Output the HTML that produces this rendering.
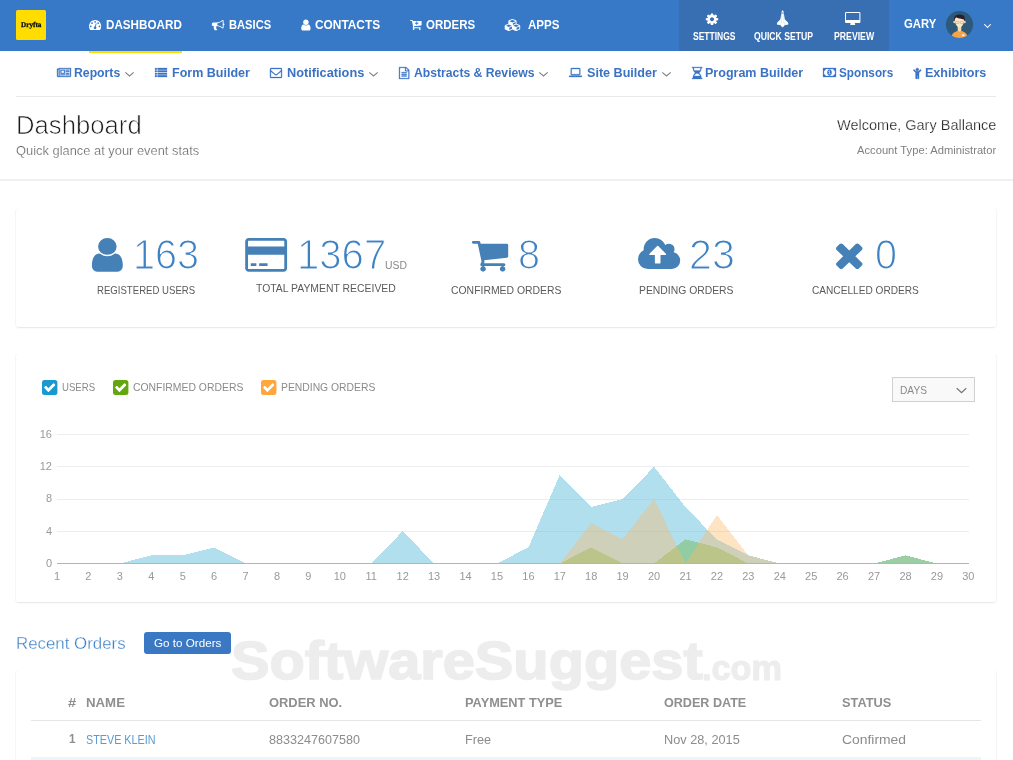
<!DOCTYPE html>
<html lang="en">
<head>
<meta charset="utf-8">
<title>Dryfta - Dashboard</title>
<style>
html,body{margin:0;padding:0;background:#fff}
html{overflow:hidden}
body{width:1013px;height:760px;overflow:hidden}
#app{position:relative;width:1013px;height:760px;overflow:hidden;background:#fff;font-family:"Liberation Sans",sans-serif}
.t{position:absolute;white-space:nowrap;display:block;margin:0;padding:0;transform-origin:0 0;text-decoration:none;cursor:default}
.b{position:absolute;display:block}
svg.l{position:absolute;left:0;top:0;width:1013px;height:760px;overflow:visible;pointer-events:none}
.card{position:absolute;background:#fff;border-radius:3px;box-shadow:-1px 0 0 #f5f5f5,1px 0 0 #f5f5f5,0 1px 1.5px rgba(0,0,0,.10)}

</style>
</head>
<body>
<div id="app">
<header>
<div class="b" style="left:0;top:0;width:1013px;height:51px;background:#3779c7"></div>
<div class="b" style="left:0;top:96px;width:1013px;height:84px;background:#fff"></div>
<div class="b" style="left:0;top:51px;width:1013px;height:45px;background:#fff"></div>
<div class="b" style="left:679px;top:0;width:210px;height:51px;background:#386fb3"></div>
<div class="b" style="left:89px;top:51px;width:93px;height:2px;background:#ffdd00"></div>
<a class="b" style="left:16px;top:10px;width:30px;height:30px;background:#ffdd00;border-radius:1.5px"></a>
<a class="t" id="logo" style="left:20.92px;top:21px;font:700 7.4px/7.4px 'Liberation Serif', serif;color:#0c0c0c;transform:scaleX(0.9769);-webkit-text-stroke:0.3px #111;text-rendering:geometricPrecision;">Dryfta</a>
<nav>
<a class="t" id="n1" style="left:106.07px;top:18px;font:700 13px/13px 'Liberation Sans', sans-serif;color:#fff;transform:scaleX(0.8970);">DASHBOARD</a>
<a class="t" id="n2" style="left:228.99px;top:18px;font:700 13px/13px 'Liberation Sans', sans-serif;color:#fff;transform:scaleX(0.8582);">BASICS</a>
<a class="t" id="n3" style="left:315.11px;top:18px;font:700 13px/13px 'Liberation Sans', sans-serif;color:#fff;transform:scaleX(0.9140);">CONTACTS</a>
<a class="t" id="n4" style="left:426.25px;top:18px;font:700 13px/13px 'Liberation Sans', sans-serif;color:#fff;transform:scaleX(0.8824);">ORDERS</a>
<a class="t" id="n5" style="left:527.68px;top:18px;font:700 13px/13px 'Liberation Sans', sans-serif;color:#fff;transform:scaleX(0.8917);">APPS</a>
</nav>
<nav>
<a class="t" id="s1" style="left:693.05px;top:32px;font:700 10px/10px 'Liberation Sans', sans-serif;color:#fff;transform:scaleX(0.8494);">SETTINGS</a>
<a class="t" id="s2" style="left:754.23px;top:32px;font:700 10px/10px 'Liberation Sans', sans-serif;color:#fff;transform:scaleX(0.8636);">QUICK SETUP</a>
<a class="t" id="s3" style="left:834.16px;top:32px;font:700 10px/10px 'Liberation Sans', sans-serif;color:#fff;transform:scaleX(0.8700);">PREVIEW</a>
<a class="t" id="gary" style="left:904.31px;top:17px;font:700 13px/13px 'Liberation Sans', sans-serif;color:#fff;transform:scaleX(0.8694);">GARY</a>
</nav>
</header>
<nav>
<a class="t" id="m1" style="left:74.45px;top:66px;font:700 13px/13px 'Liberation Sans', sans-serif;color:#3b72c4;transform:scaleX(0.9411);">Reports</a>
<a class="t" id="m2" style="left:172.41px;top:66px;font:700 13px/13px 'Liberation Sans', sans-serif;color:#3b72c4;transform:scaleX(0.9625);">Form Builder</a>
<a class="t" id="m3" style="left:287.38px;top:66px;font:700 13px/13px 'Liberation Sans', sans-serif;color:#3b72c4;transform:scaleX(0.9816);">Notifications</a>
<a class="t" id="m4" style="left:413.62px;top:66px;font:700 13px/13px 'Liberation Sans', sans-serif;color:#3b72c4;transform:scaleX(0.9375);">Abstracts &amp; Reviews</a>
<a class="t" id="m5" style="left:586.85px;top:66px;font:700 13px/13px 'Liberation Sans', sans-serif;color:#3b72c4;transform:scaleX(0.9683);">Site Builder</a>
<a class="t" id="m6" style="left:705.39px;top:66px;font:700 13px/13px 'Liberation Sans', sans-serif;color:#3b72c4;transform:scaleX(0.9634);">Program Builder</a>
<a class="t" id="m7" style="left:838.50px;top:66px;font:700 13px/13px 'Liberation Sans', sans-serif;color:#3b72c4;transform:scaleX(0.9033);">Sponsors</a>
<a class="t" id="m8" style="left:925.41px;top:66px;font:700 13px/13px 'Liberation Sans', sans-serif;color:#3b72c4;transform:scaleX(0.9644);">Exhibitors</a>
</nav>
<div class="b" style="left:16px;top:96px;width:980px;height:1px;background:#e9e9e9"></div>
<div class="b" style="left:0;top:179px;width:1013px;height:2px;background:#efefef"></div>
<section>
<h1 class="t" id="h1" style="left:15.70px;top:113px;font:400 25.6px/25.6px 'Liberation Sans', sans-serif;color:#1c1c1c;transform:scaleX(1.0038);-webkit-text-stroke:0.7px #fff;paint-order:fill stroke;">Dashboard</h1>
<p class="t" id="h2" style="left:16.34px;top:144px;font:400 13.5px/13.5px 'Liberation Sans', sans-serif;color:#6a6a6a;transform:scaleX(0.9535);-webkit-text-stroke:0.2px #fff;paint-order:fill stroke;">Quick glance at your event stats</p>
<p class="t" id="h3" style="left:836.52px;top:117px;font:400 15px/15px 'Liberation Sans', sans-serif;color:#1e1e1e;transform:scaleX(0.9673);-webkit-text-stroke:0.25px #fff;paint-order:fill stroke;">Welcome, Gary Ballance</p>
<p class="t" id="h4" style="left:857.28px;top:145px;font:400 11px/11px 'Liberation Sans', sans-serif;color:#808080;transform:scaleX(1.0177);">Account Type: Administrator</p>
</section>
<section>
<div class="card" style="left:16px;top:209px;width:980px;height:118px"></div>
<strong class="t" id="v1" style="left:133.32px;top:234px;font:400 42px/42px 'Liberation Sans', sans-serif;color:#3f82c4;transform:scaleX(0.9429);-webkit-text-stroke:1.2px #fff;paint-order:fill stroke;">163</strong>
<strong class="t" id="v2" style="left:296.82px;top:234px;font:400 42px/42px 'Liberation Sans', sans-serif;color:#3f82c4;transform:scaleX(0.9549);-webkit-text-stroke:1.2px #fff;paint-order:fill stroke;">1367</strong>
<small class="t" id="usd" style="left:385.25px;top:261px;font:400 10px/10px 'Liberation Sans', sans-serif;color:#888;transform:scaleX(1.0387);">USD</small>
<strong class="t" id="v3" style="left:517.66px;top:234px;font:400 42px/42px 'Liberation Sans', sans-serif;color:#3f82c4;transform:scaleX(0.9451);-webkit-text-stroke:1.2px #fff;paint-order:fill stroke;">8</strong>
<strong class="t" id="v4" style="left:689.07px;top:234px;font:400 42px/42px 'Liberation Sans', sans-serif;color:#3f82c4;transform:scaleX(0.9806);-webkit-text-stroke:1.2px #fff;paint-order:fill stroke;">23</strong>
<strong class="t" id="v5" style="left:875.17px;top:234px;font:400 42px/42px 'Liberation Sans', sans-serif;color:#3f82c4;transform:scaleX(0.9424);-webkit-text-stroke:1.2px #fff;paint-order:fill stroke;">0</strong>
<span class="t" id="l1" style="left:96.64px;top:285px;font:400 11px/11px 'Liberation Sans', sans-serif;color:#5a5a5a;transform:scaleX(0.8725);">REGISTERED USERS</span>
<span class="t" id="l2" style="left:256.40px;top:283px;font:400 11px/11px 'Liberation Sans', sans-serif;color:#5a5a5a;transform:scaleX(0.9463);">TOTAL PAYMENT RECEIVED</span>
<span class="t" id="l3" style="left:450.87px;top:285px;font:400 11px/11px 'Liberation Sans', sans-serif;color:#5a5a5a;transform:scaleX(0.9462);">CONFIRMED ORDERS</span>
<span class="t" id="l4" style="left:639.32px;top:285px;font:400 11px/11px 'Liberation Sans', sans-serif;color:#5a5a5a;transform:scaleX(0.9429);">PENDING ORDERS</span>
<span class="t" id="l5" style="left:812.14px;top:285px;font:400 11px/11px 'Liberation Sans', sans-serif;color:#5a5a5a;transform:scaleX(0.9194);">CANCELLED ORDERS</span>
</section>
<section>
<div class="card" style="left:16px;top:354px;width:980px;height:248px"></div>
<div class="b" style="left:892px;top:377px;width:81px;height:23px;background:#f9f9f9;border:1px solid #d0d0d0;box-sizing:content-box"></div>
<label class="t" id="g1" style="left:62.38px;top:382px;font:400 11px/11px 'Liberation Sans', sans-serif;color:#8a8a8a;transform:scaleX(0.8737);">USERS</label>
<label class="t" id="g2" style="left:132.63px;top:382px;font:400 11px/11px 'Liberation Sans', sans-serif;color:#8a8a8a;transform:scaleX(0.9454);">CONFIRMED ORDERS</label>
<label class="t" id="g3" style="left:281.39px;top:382px;font:400 11px/11px 'Liberation Sans', sans-serif;color:#8a8a8a;transform:scaleX(0.9411);">PENDING ORDERS</label>
<span class="t" id="days" style="left:900.40px;top:385px;font:400 11px/11px 'Liberation Sans', sans-serif;color:#8a8a8a;transform:scaleX(0.9250);">DAYS</span>
<svg class="l" viewBox="0 0 1013 760">
<line x1="57" x2="969" y1="434.5" y2="434.5" stroke="#ededed" stroke-width="1" shape-rendering="crispEdges"/>
<line x1="57" x2="969" y1="466.5" y2="466.5" stroke="#ededed" stroke-width="1" shape-rendering="crispEdges"/>
<line x1="57" x2="969" y1="499.5" y2="499.5" stroke="#ededed" stroke-width="1" shape-rendering="crispEdges"/>
<line x1="57" x2="969" y1="531.5" y2="531.5" stroke="#ededed" stroke-width="1" shape-rendering="crispEdges"/>
<polygon points="57.0,564 57.0,563.5 88.4,563.5 119.8,563.5 151.3,555.4 182.7,555.4 214.1,547.4 245.5,563.5 277.0,563.5 308.4,563.5 339.8,563.5 371.2,563.5 402.7,531.2 434.1,563.5 465.5,563.5 496.9,563.5 528.4,547.4 559.8,474.8 591.2,507.1 622.6,499.0 654.1,466.8 685.5,507.1 716.9,539.3 748.3,555.4 779.8,563.5 811.2,563.5 842.6,563.5 874.0,563.5 905.5,563.5 936.9,563.5 968.3,563.5 968.3,564" fill="rgba(99,191,221,0.5)" shape-rendering="crispEdges"/>
<polygon points="57.0,564 57.0,563.5 88.4,563.5 119.8,563.5 151.3,563.5 182.7,563.5 214.1,563.5 245.5,563.5 277.0,563.5 308.4,563.5 339.8,563.5 371.2,563.5 402.7,563.5 434.1,563.5 465.5,563.5 496.9,563.5 528.4,563.5 559.8,563.5 591.2,547.4 622.6,563.5 654.1,563.5 685.5,539.3 716.9,547.4 748.3,563.5 779.8,563.5 811.2,563.5 842.6,563.5 874.0,563.5 905.5,555.4 936.9,563.5 968.3,563.5 968.3,564" fill="rgba(144,202,153,0.9)" shape-rendering="crispEdges"/>
<polygon points="57.0,564 57.0,563.5 88.4,563.5 119.8,563.5 151.3,563.5 182.7,563.5 214.1,563.5 245.5,563.5 277.0,563.5 308.4,563.5 339.8,563.5 371.2,563.5 402.7,563.5 434.1,563.5 465.5,563.5 496.9,563.5 528.4,563.5 559.8,563.5 591.2,523.2 622.6,539.3 654.1,499.0 685.5,563.5 716.9,515.1 748.3,555.4 779.8,563.5 811.2,563.5 842.6,563.5 874.0,563.5 905.5,563.5 936.9,563.5 968.3,563.5 968.3,564" fill="rgba(255,182,96,0.37)" shape-rendering="crispEdges"/>
<line x1="57" x2="969" y1="563.5" y2="563.5" stroke="#b6bd82" stroke-width="1" shape-rendering="crispEdges"/>
<g font-family="Liberation Sans, sans-serif" font-size="11" fill="#999">
<text x="52" y="437.7" text-anchor="end">16</text>
<text x="52" y="469.9" text-anchor="end">12</text>
<text x="52" y="502.2" text-anchor="end">8</text>
<text x="52" y="534.5" text-anchor="end">4</text>
<text x="52" y="566.7" text-anchor="end">0</text>
<text x="57.0" y="580" text-anchor="middle">1</text>
<text x="88.4" y="580" text-anchor="middle">2</text>
<text x="119.8" y="580" text-anchor="middle">3</text>
<text x="151.3" y="580" text-anchor="middle">4</text>
<text x="182.7" y="580" text-anchor="middle">5</text>
<text x="214.1" y="580" text-anchor="middle">6</text>
<text x="245.5" y="580" text-anchor="middle">7</text>
<text x="277.0" y="580" text-anchor="middle">8</text>
<text x="308.4" y="580" text-anchor="middle">9</text>
<text x="339.8" y="580" text-anchor="middle">10</text>
<text x="371.2" y="580" text-anchor="middle">11</text>
<text x="402.7" y="580" text-anchor="middle">12</text>
<text x="434.1" y="580" text-anchor="middle">13</text>
<text x="465.5" y="580" text-anchor="middle">14</text>
<text x="496.9" y="580" text-anchor="middle">15</text>
<text x="528.4" y="580" text-anchor="middle">16</text>
<text x="559.8" y="580" text-anchor="middle">17</text>
<text x="591.2" y="580" text-anchor="middle">18</text>
<text x="622.6" y="580" text-anchor="middle">19</text>
<text x="654.1" y="580" text-anchor="middle">20</text>
<text x="685.5" y="580" text-anchor="middle">21</text>
<text x="716.9" y="580" text-anchor="middle">22</text>
<text x="748.3" y="580" text-anchor="middle">23</text>
<text x="779.8" y="580" text-anchor="middle">24</text>
<text x="811.2" y="580" text-anchor="middle">25</text>
<text x="842.6" y="580" text-anchor="middle">26</text>
<text x="874.0" y="580" text-anchor="middle">27</text>
<text x="905.5" y="580" text-anchor="middle">28</text>
<text x="936.9" y="580" text-anchor="middle">29</text>
<text x="968.3" y="580" text-anchor="middle">30</text>
</g></svg>
</section>
<section>
<h2 class="t" id="ro" style="left:15.81px;top:635px;font:400 16.5px/16.5px 'Liberation Sans', sans-serif;color:#3a80c8;transform:scaleX(1.0215);-webkit-text-stroke:0.3px #fff;paint-order:fill stroke;">Recent Orders</h2>
<a class="b" style="left:144px;top:632px;width:87px;height:22px;background:#3a78c3;border-radius:3px"></a>
<a class="t" id="btn" style="left:153.52px;top:638px;font:400 11px/11px 'Liberation Sans', sans-serif;color:#fff;transform:scaleX(1.0598);">Go to Orders</a>
<div class="card" style="left:16px;top:671px;width:980px;height:120px"></div>
<div aria-hidden="true">
<span class="t" id="wm1" style="left:231.34px;top:634px;font:700 53px/53px 'Liberation Sans', sans-serif;color:#ededed;transform:scaleX(1.0895);-webkit-text-stroke:1.6px #ededed;">SoftwareSuggest</span>
<span class="t" id="wm2" style="left:702.36px;top:650px;font:700 35px/35px 'Liberation Sans', sans-serif;color:#ededed;transform:scaleX(0.9797);-webkit-text-stroke:1.2px #ededed;">.com</span>
</div>
<div class="b" style="left:31px;top:720px;width:950px;height:1px;background:#e6e6e6"></div>
<div class="b" style="left:31px;top:757px;width:950px;height:10px;background:#ebf6fb"></div>
<span class="t" id="th0" style="left:67.91px;top:696px;font:700 13px/13px 'Liberation Sans', sans-serif;color:#8f8f8f;transform:scaleX(1.1207);">#</span>
<span class="t" id="th1" style="left:86.30px;top:696px;font:700 13px/13px 'Liberation Sans', sans-serif;color:#8f8f8f;transform:scaleX(1.0182);">NAME</span>
<span class="t" id="th2" style="left:269.37px;top:696px;font:700 13px/13px 'Liberation Sans', sans-serif;color:#8f8f8f;transform:scaleX(0.9927);">ORDER NO.</span>
<span class="t" id="th3" style="left:465.47px;top:696px;font:700 13px/13px 'Liberation Sans', sans-serif;color:#8f8f8f;transform:scaleX(0.9835);">PAYMENT TYPE</span>
<span class="t" id="th4" style="left:664.47px;top:696px;font:700 13px/13px 'Liberation Sans', sans-serif;color:#8f8f8f;transform:scaleX(0.9678);">ORDER DATE</span>
<span class="t" id="th5" style="left:841.85px;top:696px;font:700 13px/13px 'Liberation Sans', sans-serif;color:#8f8f8f;transform:scaleX(0.9837);">STATUS</span>
<b class="t" id="td0" style="left:68.89px;top:732px;font:700 13px/13px 'Liberation Sans', sans-serif;color:#8f8f8f;transform:scaleX(0.8982);">1</b>
<a class="t" id="td1" style="left:86.30px;top:734px;font:400 12.2px/12.2px 'Liberation Sans', sans-serif;color:#5b9bd0;transform:scaleX(0.8852);">STEVE KLEIN</a>
<span class="t" id="td2" style="left:268.91px;top:734px;font:400 12.2px/12.2px 'Liberation Sans', sans-serif;color:#8c8c8c;transform:scaleX(1.0312);">8833247607580</span>
<span class="t" id="td3" style="left:465.15px;top:734px;font:400 12.2px/12.2px 'Liberation Sans', sans-serif;color:#8c8c8c;transform:scaleX(1.0444);">Free</span>
<span class="t" id="td4" style="left:664.37px;top:734px;font:400 12.2px/12.2px 'Liberation Sans', sans-serif;color:#8c8c8c;transform:scaleX(1.0454);">Nov 28, 2015</span>
<span class="t" id="td5" style="left:841.53px;top:734px;font:400 12.2px/12.2px 'Liberation Sans', sans-serif;color:#8c8c8c;transform:scaleX(1.1394);">Confirmed</span>
</section>
<svg class="l" viewBox="0 0 1013 760">
<path fill="#fff" transform="translate(95.10 25.00) scale(0.00681 -0.00710) translate(-896.0 -576.0)" d="M346.5 293.5Q384 331 384 384Q384 437 346.5 474.5Q309 512 256 512Q203 512 165.5 474.5Q128 437 128 384Q128 331 165.5 293.5Q203 256 256 256Q309 256 346.5 293.5ZM538.5 741.5Q576 779 576 832Q576 885 538.5 922.5Q501 960 448 960Q395 960 357.5 922.5Q320 885 320 832Q320 779 357.5 741.5Q395 704 448 704Q501 704 538.5 741.5ZM1004 351 1105 733Q1111 759 1097.5 781.5Q1084 804 1059 811Q1034 818 1011 804.5Q988 791 981 765L880 383Q820 378 773 339.5Q726 301 710 241Q690 164 730 95Q770 26 847 6Q924 -14 993 26Q1062 66 1082 143Q1098 203 1076 260Q1054 317 1004 351ZM1626.5 293.5Q1664 331 1664 384Q1664 437 1626.5 474.5Q1589 512 1536 512Q1483 512 1445.5 474.5Q1408 437 1408 384Q1408 331 1445.5 293.5Q1483 256 1536 256Q1589 256 1626.5 293.5ZM986.5 933.5Q1024 971 1024 1024Q1024 1077 986.5 1114.5Q949 1152 896 1152Q843 1152 805.5 1114.5Q768 1077 768 1024Q768 971 805.5 933.5Q843 896 896 896Q949 896 986.5 933.5ZM1434.5 741.5Q1472 779 1472 832Q1472 885 1434.5 922.5Q1397 960 1344 960Q1291 960 1253.5 922.5Q1216 885 1216 832Q1216 779 1253.5 741.5Q1291 704 1344 704Q1397 704 1434.5 741.5ZM1792 384Q1792 123 1651 -99Q1632 -128 1597 -128H195Q160 -128 141 -99Q0 122 0 384Q0 566 71 732Q142 898 262 1018Q382 1138 548 1209Q714 1280 896 1280Q1078 1280 1244 1209Q1410 1138 1530 1018Q1650 898 1721 732Q1792 566 1792 384Z"/>
<path fill="#fff" transform="translate(218.20 25.15) scale(0.00703 -0.00670) translate(-896.0 -639.4)" d="M1664 896Q1717 896 1754.5 858.5Q1792 821 1792 768Q1792 715 1754.5 677.5Q1717 640 1664 640V256Q1664 204 1626 166Q1588 128 1536 128Q1119 475 724 508Q666 489 633 442Q600 395 602 341.5Q604 288 642 249Q622 216 619 183.5Q616 151 625 125.5Q634 100 658.5 70.5Q683 41 706.5 20.5Q730 0 768 -30Q739 -88 656.5 -113Q574 -138 488 -124.5Q402 -111 356 -69Q349 -46 326.5 18.5Q304 83 294.5 113Q285 143 271.5 202Q258 261 256.5 303Q255 345 260 401.5Q265 458 282 512H160Q94 512 47 559Q0 606 0 672V864Q0 930 47 977Q94 1024 160 1024H640Q1075 1024 1536 1408Q1588 1408 1626 1370Q1664 1332 1664 1280ZM1536 292V1246Q1142 944 768 903V633Q1145 591 1536 292Z"/>
<path fill="#fff" transform="translate(305.90 25.00) scale(0.00724 -0.00724) translate(-640.0 -640.0)" d="M1280 137Q1280 28 1217.5 -50Q1155 -128 1067 -128H213Q125 -128 62.5 -50Q0 28 0 137Q0 222 8.5 297.5Q17 373 40 449.5Q63 526 98.5 580.5Q134 635 192.5 669.5Q251 704 327 704Q458 576 640 576Q822 576 953 704Q1029 704 1087.5 669.5Q1146 635 1181.5 580.5Q1217 526 1240 449.5Q1263 373 1271.5 297.5Q1280 222 1280 137ZM911.5 1295.5Q1024 1183 1024 1024Q1024 865 911.5 752.5Q799 640 640 640Q481 640 368.5 752.5Q256 865 256 1024Q256 1183 368.5 1295.5Q481 1408 640 1408Q799 1408 911.5 1295.5Z"/>
<path fill="#fff" transform="translate(415.85 25.00) scale(0.00691 -0.00710) translate(-832.0 -576.0)" d="M1152 896H1024V1024Q1024 1050 1005 1069Q986 1088 960 1088Q934 1088 915 1069Q896 1050 896 1024V896H768Q742 896 723 877Q704 858 704 832Q704 806 723 787Q742 768 768 768H896V640Q896 614 915 595Q934 576 960 576Q986 576 1005 595Q1024 614 1024 640V768H1152Q1178 768 1197 787Q1216 806 1216 832Q1216 858 1197 877Q1178 896 1152 896ZM602.5 90.5Q640 53 640 0Q640 -53 602.5 -90.5Q565 -128 512 -128Q459 -128 421.5 -90.5Q384 -53 384 0Q384 53 421.5 90.5Q459 128 512 128Q565 128 602.5 90.5ZM1498.5 90.5Q1536 53 1536 0Q1536 -53 1498.5 -90.5Q1461 -128 1408 -128Q1355 -128 1317.5 -90.5Q1280 -53 1280 0Q1280 53 1317.5 90.5Q1355 128 1408 128Q1461 128 1498.5 90.5ZM1664 1088V576Q1664 552 1648 533.5Q1632 515 1607 512L563 390Q564 383 567.5 368.5Q571 354 573.5 342Q576 330 576 320Q576 304 552 256H1472Q1498 256 1517 237Q1536 218 1536 192Q1536 166 1517 147Q1498 128 1472 128H448Q422 128 403 147Q384 166 384 192Q384 206 395 231.5Q406 257 424.5 291Q443 325 445 329L268 1152H64Q38 1152 19 1171Q0 1190 0 1216Q0 1242 19 1261Q38 1280 64 1280H320Q336 1280 348.5 1273.5Q361 1267 368.5 1258Q376 1249 381.5 1233.5Q387 1218 389 1207Q391 1196 394.5 1177.5Q398 1159 399 1152H1600Q1626 1152 1645 1133Q1664 1114 1664 1088Z"/>
<path fill="#fff" transform="translate(512.45 25.05) scale(0.00712 -0.00675) translate(-1088.0 -640.0)" d="M640 -96 1024 96V410L640 246ZM576 358 980 531 576 704 172 531ZM1664 -96 2048 96V410L1664 246ZM1600 358 2004 531 1600 704 1196 531ZM1152 651 1536 816V1082L1152 918ZM1088 1030 1529 1219 1088 1408 647 1219ZM2176 512V96Q2176 60 2157 29Q2138 -2 2105 -18L1657 -242Q1632 -256 1600 -256Q1568 -256 1543 -242L1095 -18Q1091 -16 1088 -14Q1086 -16 1081 -18L633 -242Q608 -256 576 -256Q544 -256 519 -242L71 -18Q38 -2 19 29Q0 60 0 96V512Q0 550 21.5 582Q43 614 78 630L512 816V1216Q512 1254 533.5 1286Q555 1318 590 1334L1038 1526Q1061 1536 1088 1536Q1115 1536 1138 1526L1586 1334Q1621 1318 1642.5 1286Q1664 1254 1664 1216V816L2098 630Q2134 614 2155 582Q2176 550 2176 512Z"/>
<path fill="#fff" transform="translate(712.00 19.25) scale(0.00807 -0.00749) translate(-768.0 -640.0)" d="M949 459Q1024 534 1024 640Q1024 746 949 821Q874 896 768 896Q662 896 587 821Q512 746 512 640Q512 534 587 459Q662 384 768 384Q874 384 949 459ZM1536 749V527Q1536 515 1528 504Q1520 493 1508 491L1323 463Q1304 409 1284 372Q1319 322 1391 234Q1401 222 1401 209Q1401 196 1392 186Q1365 149 1293 78Q1221 7 1199 7Q1187 7 1173 16L1035 124Q991 101 944 86Q928 -50 915 -100Q908 -128 879 -128H657Q643 -128 632.5 -119.5Q622 -111 621 -98L593 86Q544 102 503 123L362 16Q352 7 337 7Q323 7 312 18Q186 132 147 186Q140 196 140 209Q140 221 148 232Q163 253 199 298.5Q235 344 253 369Q226 419 212 468L29 495Q16 497 8 507.5Q0 518 0 531V753Q0 765 8 776Q16 787 27 789L213 817Q227 863 252 909Q212 966 145 1047Q135 1059 135 1071Q135 1081 144 1094Q170 1130 242.5 1201.5Q315 1273 337 1273Q350 1273 363 1263L501 1156Q545 1179 592 1194Q608 1330 621 1380Q628 1408 657 1408H879Q893 1408 903.5 1399.5Q914 1391 915 1378L943 1194Q992 1178 1033 1157L1175 1264Q1184 1273 1199 1273Q1212 1273 1224 1263Q1353 1144 1389 1093Q1396 1085 1396 1071Q1396 1059 1388 1048Q1373 1027 1337 981.5Q1301 936 1283 911Q1309 861 1324 813L1507 785Q1520 783 1528 772.5Q1536 762 1536 749Z"/>
<path fill="#fff" transform="translate(782.60 19.00) rotate(-90) scale(0.00808 -0.00808) translate(-1088.0 -576.0)" d="M620 416Q510 352 352 352H224V416H160Q147 416 137.5 439.5Q128 463 128 496Q128 520 135 545Q77 547 38.5 555.5Q0 564 0 576Q0 588 38.5 596.5Q77 605 135 607Q128 632 128 656Q128 689 137.5 712.5Q147 736 160 736H224V800H352Q510 800 620 736H1733Q1775 729 1839.5 718Q1904 707 1920 704Q2009 689 2070 663.5Q2131 638 2153.5 616Q2176 594 2176 576Q2176 558 2153.5 536Q2131 514 2070 488.5Q2009 463 1920 448Q1904 445 1839.5 434Q1775 423 1733 416ZM1739 668Q1792 632 1792 576Q1792 520 1739 484L1820 454Q1888 502 1888 576Q1888 650 1820 698ZM625 400H1640Q1423 362 1184 320Q1127 320 1071 296Q1015 272 988 248L960 224L672 -64Q646 -90 601.5 -109Q557 -128 512 -128H416L323 336H352Q509 336 625 400ZM352 816H323L416 1280H512Q558 1280 602 1261Q646 1242 672 1216L960 928Q964 924 971 917.5Q978 911 1001.5 894.5Q1025 878 1050 865.5Q1075 853 1111.5 842.5Q1148 832 1184 832L1640 752H625Q509 816 352 816Z"/>
<path fill="#fff" transform="translate(852.70 18.50) scale(0.00802 -0.00781) translate(-960.0 -704.0)" d="M1792 544V1376Q1792 1389 1782.5 1398.5Q1773 1408 1760 1408H160Q147 1408 137.5 1398.5Q128 1389 128 1376V544Q128 531 137.5 521.5Q147 512 160 512H1760Q1773 512 1782.5 521.5Q1792 531 1792 544ZM1920 1376V288Q1920 222 1873 175Q1826 128 1760 128H1216Q1216 91 1232 50.5Q1248 10 1264 -20.5Q1280 -51 1280 -64Q1280 -90 1261 -109Q1242 -128 1216 -128H704Q678 -128 659 -109Q640 -90 640 -64Q640 -50 656 -20Q672 10 688 50Q704 90 704 128H160Q94 128 47 175Q0 222 0 288V1376Q0 1442 47 1489Q94 1536 160 1536H1760Q1826 1536 1873 1489Q1920 1442 1920 1376Z"/>
<path fill="#fff" transform="translate(987.50 26.00) scale(0.00701 -0.00687) translate(-576.0 -592.0)" d="M1065 777 599 311Q589 301 576 301Q563 301 553 311L87 777Q77 787 77 800Q77 813 87 823L137 873Q147 883 160 883Q173 883 183 873L576 480L969 873Q979 883 992 883Q1005 883 1015 873L1065 823Q1075 813 1075 800Q1075 787 1065 777Z"/>
<path fill="#3b72c4" stroke="#3b72c4" stroke-width="0.3" vector-effect="non-scaling-stroke" transform="translate(64.00 72.50) scale(0.00684 -0.00639) translate(-1024.0 -704.0)" d="M1024 1024H640V640H1024ZM1152 384V256H512V384ZM1152 1152V512H512V1152ZM1792 384V256H1280V384ZM1792 640V512H1280V640ZM1792 896V768H1280V896ZM1792 1152V1024H1280V1152ZM256 192V1152H128V192Q128 166 147 147Q166 128 192 128Q218 128 237 147Q256 166 256 192ZM1920 192V1280H384V192Q384 159 373 128H1856Q1882 128 1901 147Q1920 166 1920 192ZM2048 1408V192Q2048 112 1992 56Q1936 0 1856 0H192Q112 0 56 56Q0 112 0 192V1280H256V1408Z"/>
<path fill="#3b72c4" stroke="#3b72c4" stroke-width="0.3" vector-effect="non-scaling-stroke" transform="translate(161.00 72.50) scale(0.00670 -0.00639) translate(-896.0 -704.0)" d="M256 224V32Q256 19 246.5 9.5Q237 0 224 0H32Q19 0 9.5 9.5Q0 19 0 32V224Q0 237 9.5 246.5Q19 256 32 256H224Q237 256 246.5 246.5Q256 237 256 224ZM256 608V416Q256 403 246.5 393.5Q237 384 224 384H32Q19 384 9.5 393.5Q0 403 0 416V608Q0 621 9.5 630.5Q19 640 32 640H224Q237 640 246.5 630.5Q256 621 256 608ZM256 992V800Q256 787 246.5 777.5Q237 768 224 768H32Q19 768 9.5 777.5Q0 787 0 800V992Q0 1005 9.5 1014.5Q19 1024 32 1024H224Q237 1024 246.5 1014.5Q256 1005 256 992ZM1792 224V32Q1792 19 1782.5 9.5Q1773 0 1760 0H416Q403 0 393.5 9.5Q384 19 384 32V224Q384 237 393.5 246.5Q403 256 416 256H1760Q1773 256 1782.5 246.5Q1792 237 1792 224ZM256 1376V1184Q256 1171 246.5 1161.5Q237 1152 224 1152H32Q19 1152 9.5 1161.5Q0 1171 0 1184V1376Q0 1389 9.5 1398.5Q19 1408 32 1408H224Q237 1408 246.5 1398.5Q256 1389 256 1376ZM1792 608V416Q1792 403 1782.5 393.5Q1773 384 1760 384H416Q403 384 393.5 393.5Q384 403 384 416V608Q384 621 393.5 630.5Q403 640 416 640H1760Q1773 640 1782.5 630.5Q1792 621 1792 608ZM1792 992V800Q1792 787 1782.5 777.5Q1773 768 1760 768H416Q403 768 393.5 777.5Q384 787 384 800V992Q384 1005 393.5 1014.5Q403 1024 416 1024H1760Q1773 1024 1782.5 1014.5Q1792 1005 1792 992ZM1792 1376V1184Q1792 1171 1782.5 1161.5Q1773 1152 1760 1152H416Q403 1152 393.5 1161.5Q384 1171 384 1184V1376Q384 1389 393.5 1398.5Q403 1408 416 1408H1760Q1773 1408 1782.5 1398.5Q1792 1389 1792 1376Z"/>
<path fill="#3b72c4" stroke="#3b72c4" stroke-width="0.3" vector-effect="non-scaling-stroke" transform="translate(276.00 73.00) scale(0.00670 -0.00710) translate(-896.0 -576.0)" d="M1664 32V800Q1632 764 1595 734Q1327 528 1169 396Q1118 353 1086 329Q1054 305 999.5 280.5Q945 256 897 256H896H895Q847 256 792.5 280.5Q738 305 706 329Q674 353 623 396Q465 528 197 734Q160 764 128 800V32Q128 19 137.5 9.5Q147 0 160 0H1632Q1645 0 1654.5 9.5Q1664 19 1664 32ZM1664 1083Q1664 1085 1664 1094Q1664 1103 1664 1107.5Q1664 1112 1663.5 1120.5Q1663 1129 1660.5 1133Q1658 1137 1655 1142Q1652 1147 1646 1149.5Q1640 1152 1632 1152H160Q147 1152 137.5 1142.5Q128 1133 128 1120Q128 952 275 836Q468 684 676 519Q682 514 711 489.5Q740 465 757 452Q774 439 801.5 420.5Q829 402 852 393Q875 384 895 384H896H897Q917 384 940 393Q963 402 990.5 420.5Q1018 439 1035 452Q1052 465 1081 489.5Q1110 514 1116 519Q1324 684 1517 836Q1571 879 1617.5 951.5Q1664 1024 1664 1083ZM1792 1120V32Q1792 -34 1745 -81Q1698 -128 1632 -128H160Q94 -128 47 -81Q0 -34 0 32V1120Q0 1186 47 1233Q94 1280 160 1280H1632Q1698 1280 1745 1233Q1792 1186 1792 1120Z"/>
<path fill="#3b72c4" stroke="#3b72c4" stroke-width="0.3" vector-effect="non-scaling-stroke" transform="translate(404.15 73.00) scale(0.00671 -0.00670) translate(-768.0 -640.0)" d="M1468 1156Q1496 1128 1516 1080Q1536 1032 1536 992V-160Q1536 -200 1508 -228Q1480 -256 1440 -256H96Q56 -256 28 -228Q0 -200 0 -160V1440Q0 1480 28 1508Q56 1536 96 1536H992Q1032 1536 1080 1516Q1128 1496 1156 1468ZM1024 1400V1024H1400Q1390 1053 1378 1065L1065 1378Q1053 1390 1024 1400ZM1408 -128V896H992Q952 896 924 924Q896 952 896 992V1408H128V-128ZM384 736Q384 750 393 759Q402 768 416 768H1120Q1134 768 1143 759Q1152 750 1152 736V672Q1152 658 1143 649Q1134 640 1120 640H416Q402 640 393 649Q384 658 384 672ZM1120 512Q1134 512 1143 503Q1152 494 1152 480V416Q1152 402 1143 393Q1134 384 1120 384H416Q402 384 393 393Q384 402 384 416V480Q384 494 393 503Q402 512 416 512ZM1120 256Q1134 256 1143 247Q1152 238 1152 224V160Q1152 146 1143 137Q1134 128 1120 128H416Q402 128 393 137Q384 146 384 160V224Q384 238 393 247Q402 256 416 256Z"/>
<path fill="#3b72c4" stroke="#3b72c4" stroke-width="0.3" vector-effect="non-scaling-stroke" transform="translate(575.50 72.50) scale(0.00677 -0.00703) translate(-960.0 -640.0)" d="M416 256Q350 256 303 303Q256 350 256 416V1120Q256 1186 303 1233Q350 1280 416 1280H1504Q1570 1280 1617 1233Q1664 1186 1664 1120V416Q1664 350 1617 303Q1570 256 1504 256ZM384 1120V416Q384 403 393.5 393.5Q403 384 416 384H1504Q1517 384 1526.5 393.5Q1536 403 1536 416V1120Q1536 1133 1526.5 1142.5Q1517 1152 1504 1152H416Q403 1152 393.5 1142.5Q384 1133 384 1120ZM1760 192H1920V96Q1920 56 1873 28Q1826 0 1760 0H160Q94 0 47 28Q0 56 0 96V192H160ZM1040 96Q1056 96 1056 112Q1056 128 1040 128H880Q864 128 864 112Q864 96 880 96Z"/>
<path fill="#3b72c4" stroke="#3b72c4" stroke-width="0.3" vector-effect="non-scaling-stroke" transform="translate(697.15 73.00) scale(0.00671 -0.00670) translate(-768.0 -640.0)" d="M1408 1408Q1408 1147 1301.5 946.5Q1195 746 1035 640Q1195 534 1301.5 333.5Q1408 133 1408 -128H1504Q1518 -128 1527 -137Q1536 -146 1536 -160V-224Q1536 -238 1527 -247Q1518 -256 1504 -256H32Q18 -256 9 -247Q0 -238 0 -224V-160Q0 -146 9 -137Q18 -128 32 -128H128Q128 133 234.5 333.5Q341 534 501 640Q341 746 234.5 946.5Q128 1147 128 1408H32Q18 1408 9 1417Q0 1426 0 1440V1504Q0 1518 9 1527Q18 1536 32 1536H1504Q1518 1536 1527 1527Q1536 1518 1536 1504V1440Q1536 1426 1527 1417Q1518 1408 1504 1408ZM1280 1408H256Q256 1202 341 1024H1195Q1280 1202 1280 1408ZM1223 192Q1169 333 1077.5 433.5Q986 534 883 576H653Q550 534 458.5 433.5Q367 333 313 192Z"/>
<path fill="#3b72c4" stroke="#3b72c4" stroke-width="0.3" vector-effect="non-scaling-stroke" transform="translate(829.50 72.50) scale(0.00677 -0.00703) translate(-960.0 -640.0)" d="M768 384H1152V480H1024V928H910L762 791L839 711Q881 748 894 768H896V480H768ZM1259 782Q1280 710 1280 640Q1280 570 1259 498Q1238 426 1199.5 364Q1161 302 1098 263Q1035 224 960 224Q885 224 822 263Q759 302 720.5 364Q682 426 661 498Q640 570 640 640Q640 710 661 782Q682 854 720.5 916Q759 978 822 1017Q885 1056 960 1056Q1035 1056 1098 1017Q1161 978 1199.5 916Q1238 854 1259 782ZM1792 384V896Q1686 896 1611 971Q1536 1046 1536 1152H384Q384 1046 309 971Q234 896 128 896V384Q234 384 309 309Q384 234 384 128H1536Q1536 234 1611 309Q1686 384 1792 384ZM1920 1216V64Q1920 38 1901 19Q1882 0 1856 0H64Q38 0 19 19Q0 38 0 64V1216Q0 1242 19 1261Q38 1280 64 1280H1856Q1882 1280 1901 1261Q1920 1242 1920 1216Z"/>
<path fill="#3b72c4" stroke="#3b72c4" stroke-width="0.3" vector-effect="non-scaling-stroke" transform="translate(917.30 73.50) scale(0.00677 -0.00681) translate(-640.0 -568.0)" d="M1188 988 896 696V-128Q896 -174 863 -207Q830 -240 784 -240Q738 -240 705 -207Q672 -174 672 -128V256H608V-128Q608 -174 575 -207Q542 -240 496 -240Q450 -240 417 -207Q384 -174 384 -128V696L92 988Q64 1016 64 1056Q64 1096 92 1124Q121 1152 160.5 1152Q200 1152 228 1124L456 896H824L1052 1124Q1080 1152 1120 1152Q1160 1152 1188 1124Q1216 1095 1216 1055.5Q1216 1016 1188 988ZM798.5 1310.5Q864 1245 864 1152Q864 1059 798.5 993.5Q733 928 640 928Q547 928 481.5 993.5Q416 1059 416 1152Q416 1245 481.5 1310.5Q547 1376 640 1376Q733 1376 798.5 1310.5Z"/>
<path d="M125.3 72.3L129.5 76L133.7 72.3" fill="none" stroke="#7d7f8a" stroke-width="1.05"/>
<path d="M369.3 72.3L373.5 76L377.7 72.3" fill="none" stroke="#7d7f8a" stroke-width="1.05"/>
<path d="M539.3 72.3L543.5 76L547.7 72.3" fill="none" stroke="#7d7f8a" stroke-width="1.05"/>
<path d="M662.3 72.3L666.5 76L670.7 72.3" fill="none" stroke="#7d7f8a" stroke-width="1.05"/>
<path fill="#4580b7" transform="translate(107.35 254.85) scale(0.02414 -0.02194) translate(-640.0 -640.0)" d="M1280 137Q1280 28 1217.5 -50Q1155 -128 1067 -128H213Q125 -128 62.5 -50Q0 28 0 137Q0 222 8.5 297.5Q17 373 40 449.5Q63 526 98.5 580.5Q134 635 192.5 669.5Q251 704 327 704Q458 576 640 576Q822 576 953 704Q1029 704 1087.5 669.5Q1146 635 1181.5 580.5Q1217 526 1240 449.5Q1263 373 1271.5 297.5Q1280 222 1280 137ZM911.5 1295.5Q1024 1183 1024 1024Q1024 865 911.5 752.5Q799 640 640 640Q481 640 368.5 752.5Q256 865 256 1024Q256 1183 368.5 1295.5Q481 1408 640 1408Q799 1408 911.5 1295.5Z"/>
<path fill="#4580b7" transform="translate(266.15 254.85) scale(0.02182 -0.02194) translate(-960.0 -640.0)" d="M1760 1408Q1826 1408 1873 1361Q1920 1314 1920 1248V32Q1920 -34 1873 -81Q1826 -128 1760 -128H160Q94 -128 47 -81Q0 -34 0 32V1248Q0 1314 47 1361Q94 1408 160 1408ZM160 1280Q147 1280 137.5 1270.5Q128 1261 128 1248V1024H1792V1248Q1792 1261 1782.5 1270.5Q1773 1280 1760 1280ZM1760 0Q1773 0 1782.5 9.5Q1792 19 1792 32V640H128V32Q128 19 137.5 9.5Q147 0 160 0ZM256 128V256H512V128ZM640 128V256H1024V128Z"/>
<path fill="#4580b7" transform="translate(490.05 256.30) scale(0.02181 -0.02187) translate(-832.0 -576.0)" d="M602 90Q640 52 640 0Q640 -52 602 -90Q564 -128 512 -128Q460 -128 422 -90Q384 -52 384 0Q384 52 422 90Q460 128 512 128Q564 128 602 90ZM1498 90Q1536 52 1536 0Q1536 -52 1498 -90Q1460 -128 1408 -128Q1356 -128 1318 -90Q1280 -52 1280 0Q1280 52 1318 90Q1356 128 1408 128Q1460 128 1498 90ZM1664 1088V576Q1664 552 1647.5 533.5Q1631 515 1607 512L563 390Q576 330 576 320Q576 304 552 256H1472Q1498 256 1517 237Q1536 218 1536 192Q1536 166 1517 147Q1498 128 1472 128H448Q422 128 403 147Q384 166 384 192Q384 203 392 223.5Q400 244 408 259.5Q416 275 429.5 299.5Q443 324 445 329L268 1152H64Q38 1152 19 1171Q0 1190 0 1216Q0 1242 19 1261Q38 1280 64 1280H320Q336 1280 348.5 1273.5Q361 1267 368 1258Q375 1249 381 1233.5Q387 1218 389 1207.5Q391 1197 394.5 1178Q398 1159 399 1152H1600Q1626 1152 1645 1133Q1664 1114 1664 1088Z"/>
<path fill="#4580b7" transform="translate(659.10 253.55) scale(0.02198 -0.02209) translate(-960.0 -704.0)" d="M1280 672Q1280 686 1271 695L919 1047Q910 1056 896 1056Q882 1056 873 1047L522 696Q512 684 512 672Q512 658 521 649Q530 640 544 640H768V288Q768 275 777.5 265.5Q787 256 800 256H992Q1005 256 1014.5 265.5Q1024 275 1024 288V640H1248Q1261 640 1270.5 649.5Q1280 659 1280 672ZM1920 384Q1920 225 1807.5 112.5Q1695 0 1536 0H448Q263 0 131.5 131.5Q0 263 0 448Q0 578 70 688Q140 798 258 853Q256 883 256 896Q256 1108 406 1258Q556 1408 768 1408Q924 1408 1053.5 1321Q1183 1234 1242 1090Q1313 1152 1408 1152Q1514 1152 1589 1077Q1664 1002 1664 896Q1664 820 1623 758Q1753 727 1836.5 622.5Q1920 518 1920 384Z"/>
<path fill="#4580b7" transform="translate(849.25 256.30) scale(0.02231 -0.02155) translate(-704.0 -576.0)" d="M1270 146 1134 10Q1106 -18 1066 -18Q1026 -18 998 10L704 304L410 10Q382 -18 342 -18Q302 -18 274 10L138 146Q110 174 110 214Q110 254 138 282L432 576L138 870Q110 898 110 938Q110 978 138 1006L274 1142Q302 1170 342 1170Q382 1170 410 1142L704 848L998 1142Q1026 1170 1066 1170Q1106 1170 1134 1142L1270 1006Q1298 978 1298 938Q1298 898 1270 870L976 576L1270 282Q1298 254 1298 214Q1298 174 1270 146Z"/>
<rect x="42" y="380" width="15.4" height="15" rx="2.5" fill="#1b98d0"/>
<path fill="#fff" transform="translate(49.70 387.60) scale(0.00710 -0.00741) translate(-896.0 -608.0)" d="M1643 902 919 178 783 42Q755 14 715 14Q675 14 647 42L511 178L149 540Q121 568 121 608Q121 648 149 676L285 812Q313 840 353 840Q393 840 421 812L715 517L1371 1174Q1399 1202 1439 1202Q1479 1202 1507 1174L1643 1038Q1671 1010 1671 970Q1671 930 1643 902Z"/>
<rect x="113" y="380" width="15.4" height="15" rx="2.5" fill="#63a70f"/>
<path fill="#fff" transform="translate(120.70 387.60) scale(0.00710 -0.00741) translate(-896.0 -608.0)" d="M1643 902 919 178 783 42Q755 14 715 14Q675 14 647 42L511 178L149 540Q121 568 121 608Q121 648 149 676L285 812Q313 840 353 840Q393 840 421 812L715 517L1371 1174Q1399 1202 1439 1202Q1479 1202 1507 1174L1643 1038Q1671 1010 1671 970Q1671 930 1643 902Z"/>
<rect x="261" y="380" width="15.4" height="15" rx="2.5" fill="#ffa63c"/>
<path fill="#fff" transform="translate(268.70 387.60) scale(0.00710 -0.00741) translate(-896.0 -608.0)" d="M1643 902 919 178 783 42Q755 14 715 14Q675 14 647 42L511 178L149 540Q121 568 121 608Q121 648 149 676L285 812Q313 840 353 840Q393 840 421 812L715 517L1371 1174Q1399 1202 1439 1202Q1479 1202 1507 1174L1643 1038Q1671 1010 1671 970Q1671 930 1643 902Z"/>
<path fill="#777" transform="translate(961.50 390.60) scale(0.01042 -0.00962) translate(-576.0 -592.0)" d="M1065 777 599 311Q589 301 576 301Q563 301 553 311L87 777Q77 787 77 800Q77 813 87 823L137 873Q147 883 160 883Q173 883 183 873L576 480L969 873Q979 883 992 883Q1005 883 1015 873L1065 823Q1075 813 1075 800Q1075 787 1065 777Z"/>
<g><circle cx="959.5" cy="24.5" r="13.6" fill="#2d5a7b"/><clipPath id="av"><circle cx="959.5" cy="24.5" r="13.6"/></clipPath><g clip-path="url(#av)"><path d="M951.4 37.2Q951.8 32.6 956.6 31.2L959.5 30.4L962.4 31.2Q967.2 32.6 967.6 37.2Q959.5 40.6 951.4 37.200Z" fill="#f6a343"/><path d="M957.7 25.5h3.6v5.3l-1.8 1-1.800-1z" fill="#f9d9ab"/><circle cx="954.3" cy="22.100" r="1.100" fill="#f7dcb6"/><circle cx="964.7" cy="22.100" r="1.100" fill="#f7dcb6"/><path d="M954.7 17.5Q954.3 23.4 957.4 26.4Q959.5 28.3 961.6 26.4Q964.7 23.4 964.3 17.500Z" fill="#fde6c4"/><path d="M954.1 20.8Q953 14.800 959.3 14.4Q965.9 14.2 964.9 20.6Q964.4 19.300 961 18.8Q957.8 18.2 956.2 16.900Q955 18.400 954.100 20.8Z" fill="#2b1e2c"/><rect x="955.6" y="21.3" width="3.3" height="2.200" rx="0.8" fill="none" stroke="#9aa79c" stroke-width="0.5"/><rect x="960.1" y="21.3" width="3.3" height="2.200" rx="0.8" fill="none" stroke="#9aa79c" stroke-width="0.5"/><circle cx="963.3" cy="35.3" r="1.300" fill="#dcebf5"/></g></g>
</svg>
</div>
</body>
</html>
